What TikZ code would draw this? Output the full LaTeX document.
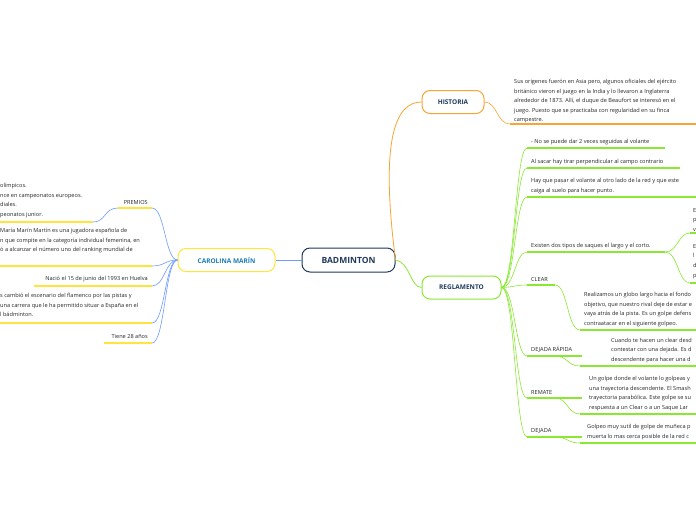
\documentclass[tikz,border=0pt]{standalone}
\usepackage{fontspec}
\setmainfont{Open Sans}
\definecolor{navy}{HTML}{1F3A5C}
\definecolor{yel}{HTML}{FFE53B}
\definecolor{org}{HTML}{F7A534}
\definecolor{grn}{HTML}{8AE833}
\definecolor{blu}{HTML}{6E9CFF}
\definecolor{cblue}{HTML}{1A7DB8}
\begin{document}
\begin{tikzpicture}[x=1pt,y=-1pt,
  txt/.style={font=\fontsize{5.6}{9.6}\selectfont,text=black!85,inner sep=0,align=left},
  main/.style={draw=navy,line width=1pt,rounded corners=8pt,fill=white,minimum width=93pt,minimum height=24pt,font=\bfseries\fontsize{8.5}{10}\selectfont,text=navy},
  topic/.style={rounded corners=8pt,fill=white,line width=1pt,minimum height=23pt,font=\bfseries\fontsize{6.5}{8}\selectfont},
  yl/.style={yel,line width=1.6pt},
  gl/.style={grn,line width=1.6pt},
  ol/.style={org,line width=1.6pt}]
\useasboundingbox (0,0) rectangle (696,520);
\fill[white] (0,0) rectangle (696,520);

% left connectors
\node[main] (bad) at (348.5,260) {BADMINTON};
\node[topic,draw=yel,minimum width=97pt,text=cblue] (car) at (226.5,260) {CAROLINA MARÍN};
\node[topic,draw=org,minimum width=62pt,text=navy] (his) at (453,102) {HISTORIA};
\node[topic,draw=grn,minimum width=79pt,text=navy] (reg) at (461.5,287.5) {REGLAMENTO};

\draw[blu,line width=0.8pt] (car.east) -- (bad.west);
\draw[org,line width=0.8pt] (bad.east) .. controls (380,140) and (395,102) .. (his.west);
\draw[grn,line width=0.8pt] (bad.east) .. controls (410,262) and (410,287) .. (reg.west);

% ---- Carolina branch
\foreach \y/\x in {208/118,266/0,286/34,323/0,343/104}{
  \coordinate (cl\y) at (152,\y);
  \draw[blu,line width=0.6pt] (car.west) .. controls (165,260) and (165,\y) .. (cl\y);
  \draw[yl] (cl\y) -- (\x,\y);
}
\node[txt,anchor=south east] (prem) at (148,205) {PREMIOS};
\coordinate (pr2) at (93,222);
\draw[blu,line width=0.6pt] (118,208) .. controls (104,208) and (106,222) .. (pr2);
\draw[yl] (pr2) -- (0,222);
\node[txt,anchor=north west] (premt) at (0,183) {olímpicos.\\nce en campeonatos europeos.\\diales.\\peonatos junior.};
\node[txt,anchor=north west] (desc) at (0,228) {María Marín Martín es una jugadora española de\\n que compite en la categoría individual femenina, en\\ó a alcanzar el número uno del ranking mundial de};
\node[txt,anchor=south east] (nac) at (148,282) {Nació el 15 de junio del 1993 en Huelva};
\node[txt,anchor=north west] (cam) at (0,293) {s cambió el escenario del  flamenco por las pistas y\\una carrera que le ha permitido situar a España en el\\l bádminton.};
\node[txt,anchor=south east] (tie) at (148,339) {Tiene 28 años};

% ---- Historia
\coordinate (h1) at (510,124);
\draw[org,line width=0.6pt] (his.east) .. controls (497,102) and (497,124) .. (h1);
\draw[ol] (h1) -- (696,124);
\node[txt,anchor=north west] (ht) at (514,79) {Sus origenes fuerón en Asia pero, algunos oficiales del ejército\\británico vieron el juego en la India y lo llevaron a Inglaterra\\alrededor de 1873. Allí, el duque de Beaufort se interesó en el\\juego. Puesto que se practicaba con regularidad en su finca\\campestre.};

% ---- Reglamento
\foreach \y/\x in {148/665,168/680,197/700,252/665,285/555,356/582,398/582,437/582}{
  \coordinate (r\y) at (527,\y);
  \draw[grn,line width=0.6pt] (reg.east) .. controls (515,287) and (515,\y) .. (r\y);
  \draw[gl] (r\y) -- (\x,\y);
}
\node[txt,anchor=south west] at (531,145) {- No se puede dar 2 veces seguidas al volante};
\node[txt,anchor=south west] at (531,165) {Al sacar hay tirar perpendicular al campo contrario};
\node[txt,anchor=south west] at (531,194) {Hay que pasar el volante  al otro lado de la red y que este\\caiga al suelo para hacer punto.};
\node[txt,anchor=south west] at (531,249) {Existen dos tipos de saques el largo y el corto.};
\node[txt,anchor=south west] at (531,282) {CLEAR};
\node[txt,anchor=south west] at (531,353) {DEJADA RÁPIDA};
\node[txt,anchor=south west] at (531,395) {REMATE};
\node[txt,anchor=south west] at (531,434) {DEJADA};

% saques sub
\foreach \y in {233,283}{
  \coordinate (s\y) at (690,\y);
  \draw[grn,line width=0.6pt] (665,252) .. controls (678,252) and (678,\y) .. (s\y);
  \draw[gl] (s\y) -- (700,\y);
}
\node[txt,anchor=north west] at (693,208) {E\\p\\v};
\node[txt,anchor=north west] at (693,244) {E\\l\\d\\p};

% leaves
\foreach \a/\b in {285/330,356/366,398/414,437/443}{
  \coordinate (l\b) at (580,\b);
  \draw[grn,line width=0.6pt] (555,\a) .. controls (568,\a) and (567,\b) .. (l\b);
  \draw[gl] (l\b) -- (700,\b);
}
\node[txt,anchor=south west] at (584,327) {Realizamos un globo largo hacia el fondo\\objetivo, que nuestro rival deje de estar e\\vaya atrás de la pista. Es un golpe defens\\contraatacar en el siguiente golpeo.};
\node[txt,anchor=south west] at (611,363) {Cuando te hacen un clear desd\\contestar con una dejada. Es d\\descendente para hacer una d};
\node[txt,anchor=south west] at (589,411) {Un golpe donde el volante lo golpeas y\\una trayectoria descendente. El Smash\\trayectoria parabólica. Este golpe se su\\respuesta a un Clear o a un Saque Lar};
\node[txt,anchor=south west] at (587,440) {Golpeo muy sutil de golpe de muñeca p\\muerta lo mas cerca posible de la red c};
\end{tikzpicture}
\end{document}
